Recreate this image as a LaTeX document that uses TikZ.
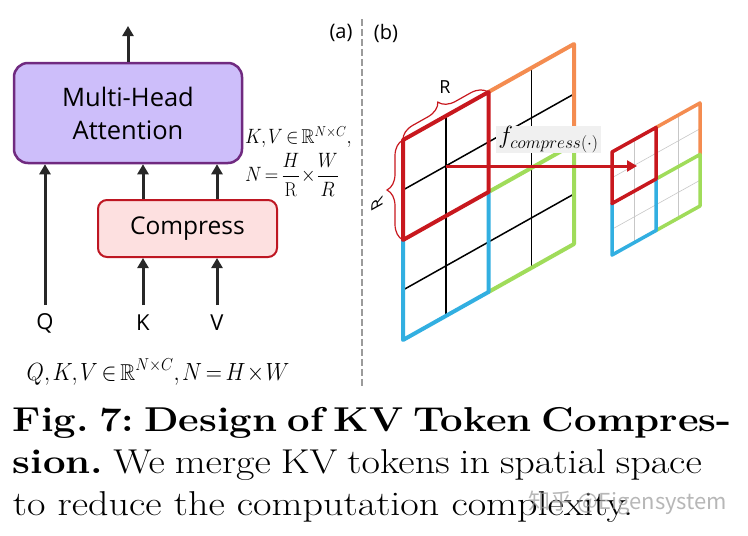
\documentclass[tikz,border=0pt]{standalone}
\usepackage{amsmath,amssymb}
\usepackage{fontspec}
\newfontfamily\uisans{Open Sans}
\newfontfamily\cjkwm{Noto Sans CJK SC}
\usetikzlibrary{arrows.meta,decorations.pathreplacing}
\definecolor{mhafill}{RGB}{205,190,250}
\definecolor{mhadraw}{RGB}{112,42,128}
\definecolor{cpfill}{RGB}{253,224,224}
\definecolor{cpdraw}{RGB}{190,22,34}
\definecolor{gred}{RGB}{200,24,30}
\definecolor{gorange}{RGB}{244,140,80}
\definecolor{ggreen}{RGB}{160,220,90}
\definecolor{gblue}{RGB}{50,175,225}
\definecolor{arrowc}{RGB}{40,40,40}
\definecolor{sepc}{RGB}{155,155,155}
\definecolor{labelbg}{RGB}{240,240,240}
\newcommand{\tightmath}{\thickmuskip=3mu\medmuskip=1mu\thinmuskip=2mu}
\begin{document}
\begin{tikzpicture}[x=1pt,y=-1pt,
  flow/.style={line width=3pt, draw=arrowc, -{Triangle[length=10pt,width=11pt]}},
  mhabox/.style={draw=mhadraw, fill=mhafill, line width=2.5pt, rounded corners=14pt,
    minimum width=228pt, minimum height=100pt, align=center, inner sep=0pt,
    font=\uisans\fontsize{25.5}{33}\selectfont},
  cpbox/.style={draw=cpdraw, fill=cpfill, line width=2pt, rounded corners=9pt,
    minimum width=179pt, minimum height=57pt, inner sep=0pt,
    font=\uisans\fontsize{24.5}{30}\selectfont},
  iolabel/.style={font=\uisans\fontsize{22}{26}\selectfont, inner sep=0pt},
  panel/.style={font=\uisans\fontsize{20}{24}\selectfont, inner sep=0pt},
  thinline/.style={line width=1.5pt, draw=black},
  faint/.style={line width=0.6pt, draw=black!22},
  edge/.style={line width=4pt, line cap=round, line join=round},
  sedge/.style={line width=3.5pt, line cap=round, line join=round},
  bracestyle/.style={decorate, decoration={brace, amplitude=16pt}, draw=gred, line width=1.2pt},
  caplinestyle/.style={anchor=base west, inner sep=0pt, font=\fontsize{34.5}{41.5}\selectfont\frenchspacing}
]
\useasboundingbox (0,0) rectangle (748,536);
\fill[white] (0,0) rectangle (748,536);

% separator
\coordinate (sepT) at (362,19);
\coordinate (sepB) at (362,387);
\draw[sepc, line width=2.5pt, dash pattern=on 7pt off 3pt] (sepT) -- (sepB);
\node[panel] (pa) at (341,33) {(a)};
\node[panel] (pb) at (386,33) {(b)};

% ---------- (a) ----------
\node[mhabox] (mha) at (128,113) {Multi-Head\\Attention};
\node[cpbox] (cp) at (187.5,228.5) {Compress};
\coordinate (top) at (128,26);
\coordinate (q0) at (45,305);
\coordinate (k0) at (143,305);
\coordinate (v0) at (217,305);
\draw[flow] (mha.north -| top) -- (top);
\draw[flow] (q0) -- (q0 |- mha.south);
\draw[flow] (k0) -- (k0 |- cp.south);
\draw[flow] (v0) -- (v0 |- cp.south);
\draw[flow] (k0 |- cp.north) -- (k0 |- mha.south);
\draw[flow] (v0 |- cp.north) -- (v0 |- mha.south);
\node[iolabel] (ql) at (45,323) {Q};
\node[iolabel] (kl) at (143,323) {K};
\node[iolabel] (vl) at (217,323) {V};
\node[inner sep=0pt, font=\fontsize{23}{27}\selectfont] (fq) at (158,372)
  {\scalebox{0.9}[1]{$\tightmath Q,K,V\in\mathbb{R}^{N\times C},N=H\times W$}};
\node[inner sep=0pt, anchor=west, font=\fontsize{20}{24}\selectfont] (fk) at (245,137)
  {\scalebox{0.9}[1]{$\tightmath K,V\in\mathbb{R}^{N\times C},$}};
\node[inner sep=0pt, anchor=west, font=\fontsize{20}{24}\selectfont] (fn) at (245,175)
  {\scalebox{0.9}[1]{$\tightmath N=\dfrac{H}{\mathrm{R}}\times\dfrac{W}{R}$}};

% ---------- (b) big grid ----------
\foreach \i in {0,...,4}{\foreach \j in {0,...,4}{
  \coordinate (g\i\j) at ({403+42.75*\i},{140-24*\i+50*\j});}}
\draw[thinline] (g10) -- (g14);
\draw[thinline] (g30) -- (g34);
\draw[thinline] (g01) -- (g41);
\draw[thinline] (g03) -- (g43);
\draw[edge, draw=gorange] (g20) -- (g40) -- (g42);
\draw[edge, draw=ggreen] (g22) -- (g42) -- (g44) -- (g24);
\draw[edge, draw=gblue] (g02) -- (g04) -- (g24) -- (g22);
\draw[edge, draw=gred] (g00) -- (g20) -- (g22) -- (g02) -- cycle;

% ---------- (b) small grid ----------
\foreach \i in {0,...,4}{\foreach \j in {0,...,4}{
  \coordinate (s\i\j) at ({612+22*\i},{152-12.25*\i+25.75*\j});}}
\draw[faint] (s10) -- (s14);
\draw[faint] (s30) -- (s34);
\draw[faint] (s01) -- (s41);
\draw[faint] (s03) -- (s43);
\draw[sedge, draw=gorange] (s20) -- (s40) -- (s42);
\draw[sedge, draw=ggreen] (s22) -- (s42) -- (s44) -- (s24);
\draw[sedge, draw=gblue] (s02) -- (s04) -- (s24) -- (s22);
\draw[sedge, draw=gred] (s00) -- (s20) -- (s22) -- (s02) -- cycle;

% label and arrow
\node[fill=labelbg, minimum width=105pt, minimum height=27pt, inner sep=0pt,
  font=\fontsize{23}{26}\selectfont] (fc) at (548.5,139.5) {$f_{compress(\cdot)}$};
\coordinate (tipc) at (637,166);
\draw[line width=3pt, draw=gred, -{Triangle[length=10pt,width=11pt]}] (g11) -- (tipc);

% braces
\draw[bracestyle] (g00) -- (g20);
\draw[bracestyle] (g02) -- (g00);
\node[inner sep=0pt, font=\uisans\fontsize{18}{20}\selectfont] (rt) at (445,87) {R};
\node[inner sep=0pt, font=\uisans\fontsize{18}{20}\selectfont, transform shape,
  cm={0,1,-0.873,-0.488,(0,0)}] (rl) at (377,204) {R};

% ---------- caption ----------
\node[caplinestyle] (c1) at (12.7,431.7)
  {\scalebox{1.163}[1]{\makebox[592.4pt][s]{\bfseries Fig.~7: Design of KV Token Compres-}}};
\node[caplinestyle] (c2) at (12.7,473.3)
  {\scalebox{1.163}[1]{\makebox[592.4pt][s]{\textbf{sion.} We merge KV tokens in spatial space}}};
\node[caplinestyle] (c3) at (12.7,515)
  {\scalebox{1.163}[1]{to reduce the computation complexity.}};
\node[inner sep=0pt, text=black!40, opacity=0.7, font=\cjkwm\fontsize{22}{24}\selectfont]
  (wm) at (628,503) {知乎 @Eigensystem};
\end{tikzpicture}
\end{document}
